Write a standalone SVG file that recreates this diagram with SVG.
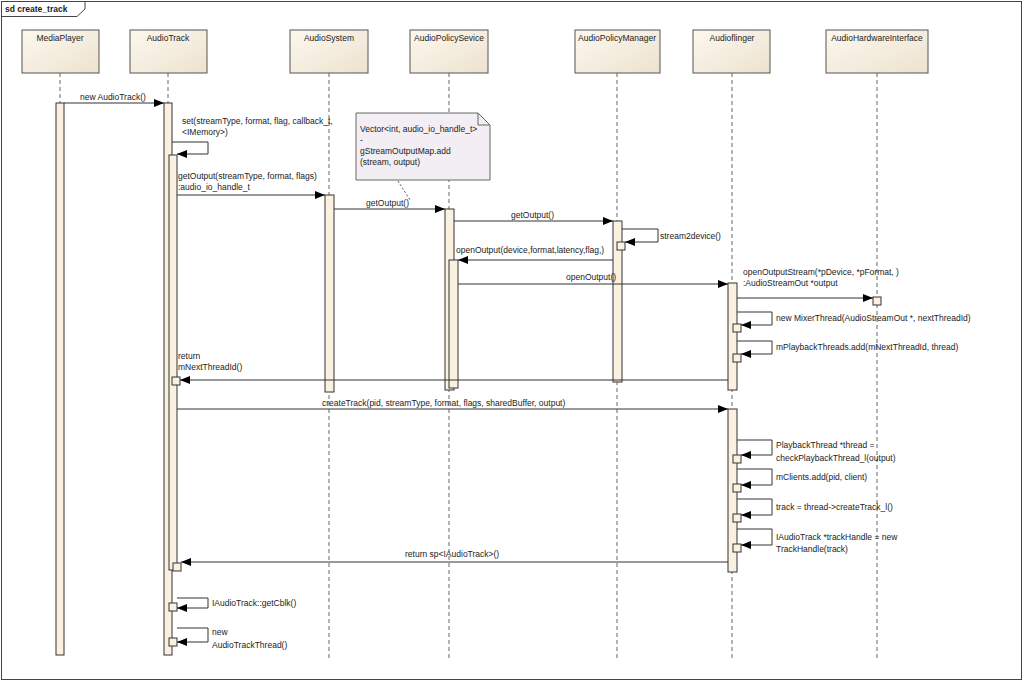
<svg xmlns="http://www.w3.org/2000/svg" width="1024" height="682" viewBox="0 0 1024 682">
<defs>
<linearGradient id="g" x1="0" y1="0" x2="1" y2="1"><stop offset="0" stop-color="#fdf8ee"/><stop offset="1" stop-color="#ece2cf"/></linearGradient>
<marker id="a" viewBox="0 0 10 8" refX="10" refY="4" markerWidth="10" markerHeight="8" orient="auto" markerUnits="userSpaceOnUse"><path d="M0,0L10,4L0,8z" fill="#000"/></marker>
</defs>
<style>
text{font-family:"Liberation Sans",Arial,sans-serif;font-size:8.5px;fill:#222}
.h{text-anchor:middle}
.box{fill:url(#g);stroke:#555;stroke-width:1}
.life{stroke:#666;stroke-dasharray:4,3;fill:none}
.act{fill:#fbf1e1;stroke:#333;stroke-width:1}
.m{stroke:#333;fill:none;marker-end:url(#a)}
</style>
<rect x="0" y="0" width="1024" height="682" fill="#fff"/>
<rect x="1.5" y="1.5" width="1020" height="678" fill="none" stroke="#444"/>
<path d="M1.5,16.5H77L85,9V1.5" fill="none" stroke="#444"/>
<text x="5" y="12" style="font-weight:bold">sd create_track</text>
<g id="lifelines">
<line class="life" x1="60" y1="73" x2="60" y2="103"/>
<line class="life" x1="168" y1="73" x2="168" y2="103"/>
<line class="life" x1="329" y1="73" x2="329" y2="660"/>
<line class="life" x1="449" y1="73" x2="449" y2="660"/>
<line class="life" x1="617" y1="73" x2="617" y2="660"/>
<line class="life" x1="732" y1="73" x2="732" y2="660"/>
<line class="life" x1="877" y1="73" x2="877" y2="660"/>
</g>
<g id="MediaPlayer"><rect class="box" x="22" y="30" width="77" height="43"/><text class="h" x="60" y="41">MediaPlayer</text><rect class="act" x="56" y="103" width="8" height="552"/></g>
<g id="AudioTrack"><rect class="box" x="130" y="30" width="77" height="43"/><text class="h" x="168" y="41">AudioTrack</text><rect class="act" x="164" y="103" width="8" height="552"/><rect class="act" x="169" y="155" width="8" height="415"/><rect class="act" x="172" y="377" width="8" height="8"/><rect class="act" x="173" y="563" width="8" height="8"/><rect class="act" x="169" y="603" width="8" height="8"/><rect class="act" x="169" y="638" width="8" height="8"/></g>
<g id="AudioSystem"><rect class="box" x="290" y="30" width="78" height="43"/><text class="h" x="329" y="41">AudioSystem</text><rect class="act" x="325" y="195" width="9" height="197"/></g>
<g id="AudioPolicySevice"><rect class="box" x="410" y="30" width="78" height="43"/><text class="h" x="449" y="41">AudioPolicySevice</text><rect class="act" x="445" y="209" width="9" height="181"/><rect class="act" x="449" y="260" width="9" height="128"/></g>
<g id="AudioPolicyManager"><rect class="box" x="575" y="30" width="85" height="43"/><text class="h" x="617" y="41">AudioPolicyManager</text><rect class="act" x="613" y="221" width="9" height="161"/><rect class="act" x="617" y="242" width="8" height="8"/></g>
<g id="Audioflinger"><rect class="box" x="693" y="30" width="77" height="43"/><text class="h" x="732" y="41">Audioflinger</text><rect class="act" x="728" y="283" width="9" height="107"/><rect class="act" x="728" y="409" width="9" height="163"/>
<rect class="act" x="733" y="324" width="8" height="8"/><rect class="act" x="733" y="354" width="8" height="8"/><rect class="act" x="733" y="455" width="8" height="8"/><rect class="act" x="733" y="484" width="8" height="8"/><rect class="act" x="733" y="514" width="8" height="8"/><rect class="act" x="733" y="544" width="8" height="8"/></g>
<g id="AudioHardwareInterface"><rect class="box" x="826" y="30" width="102" height="43"/><text class="h" x="877" y="41">AudioHardwareInterface</text><rect class="act" x="873" y="297" width="8" height="8"/></g>
<g id="note"><path d="M356,113H478L490,125V180H356Z" fill="#f3eef3" stroke="#666"/><path d="M478,113V125H490" fill="none" stroke="#666"/>
<text x="360" y="132">Vector&lt;int, audio_io_handle_t&gt;</text><text x="360" y="143">-</text><text x="360" y="154">gStreamOutputMap.add</text><text x="360" y="165">(stream, output)</text></g>
<g id="connectors">
<line x1="398" y1="181" x2="410" y2="200" stroke="#555" stroke-dasharray="2,2"/>
<path class="m" d="M64,103H164"/><text x="80" y="100">new AudioTrack()</text>
<path class="m" d="M172,142H208V154H177"/><text x="182" y="124">set(streamType, format, flag, callback_t,</text><text x="182" y="135">&lt;IMemory&gt;)</text>
<path class="m" d="M177,195H325"/><text x="178" y="179">getOutput(streamType, format, flags)</text><text x="178" y="190">:audio_io_handle_t</text>
<path class="m" d="M334,209H445"/><text x="366" y="206">getOutput()</text>
<path class="m" d="M454,221H613"/><text x="511" y="218">getOutput()</text>
<path class="m" d="M622,229H658V242H625"/><text x="660" y="239">stream2device()</text>
<path class="m" d="M613,260H458"/><text x="456" y="253">openOutput(device,format,latency,flag,)</text>
<path class="m" d="M458,284H728"/><text x="566" y="280">openOutput()</text>
<path class="m" d="M737,298H873"/><text x="743" y="275">openOutputStream(*pDevice, *pFormat, )</text><text x="743" y="286">:AudioStreamOut *output</text>
<path class="m" d="M737,312H772V325H741"/><text x="776" y="321">new MixerThread(AudioStreamOut *, nextThreadId)</text>
<path class="m" d="M737,341H772V354H741"/><text x="776" y="350">mPlaybackThreads.add(mNextThreadId, thread)</text>
<path class="m" d="M728,380H180"/><text x="178" y="359">return</text><text x="178" y="370">mNextThreadId()</text>
<path class="m" d="M177,409H728"/><text x="322" y="406">createTrack(pid, streamType, format, flags, sharedBuffer, output)</text>
<path class="m" d="M737,440H772V455H741"/><text x="776" y="448">PlaybackThread *thread =</text><text x="776" y="461">checkPlaybackThread_l(output)</text>
<path class="m" d="M737,469H772V485H741"/><text x="776" y="480">mClients.add(pid, client)</text>
<path class="m" d="M737,499H772V515H741"/><text x="776" y="510">track = thread-&gt;createTrack_l()</text>
<path class="m" d="M737,529H772V545H741"/><text x="776" y="540">IAudioTrack *trackHandle = new</text><text x="776" y="552">TrackHandle(track)</text>
<path class="m" d="M728,562H181"/><text x="405" y="557">return sp&lt;IAudioTrack&gt;()</text>
<path class="m" d="M177,598H208V608H177"/><text x="212" y="606">IAudioTrack::getCblk()</text>
<path class="m" d="M177,628H208V642H177"/><text x="212" y="635">new</text><text x="212" y="648">AudioTrackThread()</text>
</g>
</svg>
